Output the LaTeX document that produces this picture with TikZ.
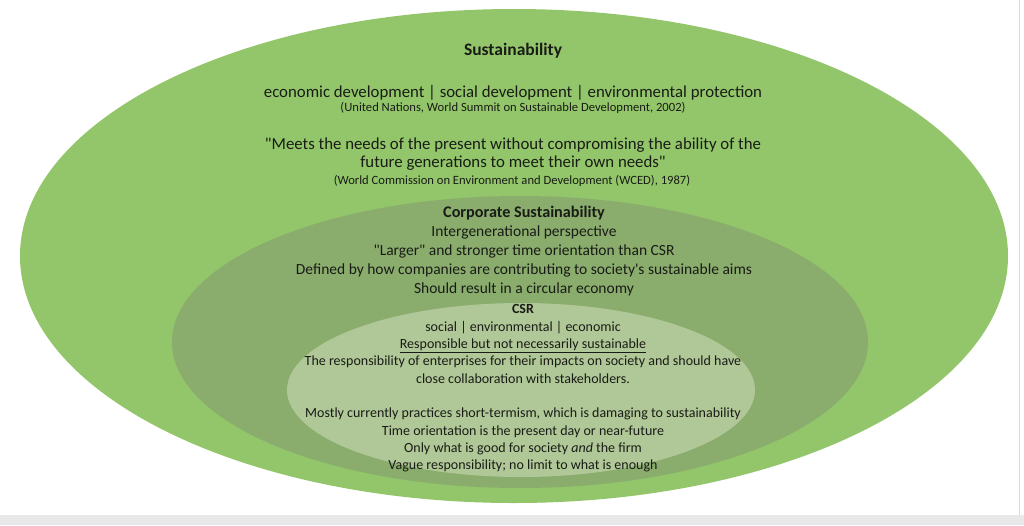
\documentclass[tikz,border=0pt]{standalone}
\usepackage{fontspec}
\setmainfont{Carlito}[Ligatures=TeXOff]
\usepackage{xcolor}
\definecolor{outergreen}{RGB}{147,198,106}
\definecolor{midgreen}{RGB}{138,172,109}
\definecolor{innergreen}{RGB}{176,200,152}
\definecolor{inktext}{RGB}{25,28,22}
\usetikzlibrary{positioning}

\begin{document}
\begin{tikzpicture}[
				x=1pt, y=-1pt,
				txt/.style={inner sep=0pt, align=center, text=inktext},
				head/.style={txt, font=\fontsize{17.5}{20}\selectfont\bfseries},
				big/.style={txt, font=\fontsize{16.8}{18}\selectfont},
				cite/.style={txt, font=\fontsize{12.6}{14}\selectfont}
				]
				\useasboundingbox (0,0) rectangle (1024,525);
				\fill[white] (0,0) rectangle (1024,525);
				% Rand
				\fill[gray!18] (0,515) rectangle (1024,525);
				\draw[gray!30] (1019,0) -- (1019,515);
				
				% Ellipsen
				\fill[outergreen] (514,256) ellipse [x radius=494pt, y radius=247pt];
				\fill[midgreen] (520,342) ellipse [x radius=348pt, y radius=146pt];
				\fill[innergreen] (521,390) ellipse [x radius=234pt, y radius=87pt];
				
				% Sustainability
				\node[head] (sust) at (513,51) {Sustainability};
				\node[big] (pillars) at (513,93) {economic development | social development | environmental protection};
				\node[cite] (un) at (513,108) {(United Nations, World Summit on Sustainable Development, 2002)};
				\node[big] (quote) at (513,154) {"Meets the needs of the present without compromising the ability of the\\future generations to meet their own needs"};
				\node[cite] (wced) at (512,181) {(World Commission on Environment and Development (WCED), 1987)};
				
				% Corporate Sustainability
				\node[txt, font=\fontsize{15.5}{19}\selectfont] (corp) at (524,251.5) {{\fontsize{16.2}{19}\selectfont\textbf{Corporate Sustainability}}\\Intergenerational perspective\\"Larger" and stronger time orientation than CSR\\Defined by how companies are contributing to society's sustainable aims\\Should result in a circular economy};
				
				% CSR
				\node[txt, font=\fontsize{14}{17.35}\selectfont] (csr) at (523,388.5) {\textbf{CSR}\\social | environmental | economic\\\underline{Responsible but not necessarily sustainable}\\The responsibility of enterprises for their impacts on society and should have\\close collaboration with stakeholders.\\~\\Mostly currently practices short-termism, which is damaging to sustainability\\Time orientation is the present day or near-future\\Only what is good for society \textit{and} the firm\\Vague responsibility; no limit to what is enough};
			\end{tikzpicture}
\end{document}
